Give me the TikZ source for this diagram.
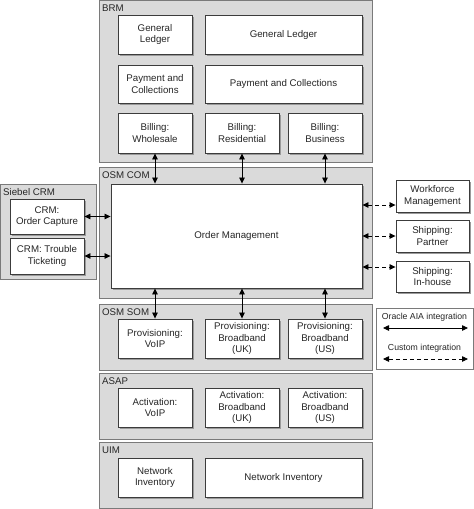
\documentclass[tikz,border=0pt]{standalone}
\usepackage{fontspec}
\setmainfont{Liberation Sans}
\usetikzlibrary{arrows.meta,shadows}
\definecolor{contfill}{HTML}{DADADA}
\definecolor{contdraw}{HTML}{7A7A7A}
\definecolor{boxdraw}{HTML}{3C3C3C}
\definecolor{shadowc}{HTML}{9A9A9A}
\begin{document}
\begin{tikzpicture}[x=1pt,y=-1pt,
  every node/.style={font=\fontsize{9.7}{11.7}\selectfont, text=black!85},
  cont/.style={draw=contdraw, fill=contfill, line width=0.8pt,
     drop shadow={shadow xshift=1pt, shadow yshift=-1pt, fill=shadowc, opacity=1}},
  clabel/.style={anchor=west, inner sep=0pt},
  box/.style={draw=boxdraw, fill=white, line width=0.9pt, align=center, inner sep=1pt,
     drop shadow={shadow xshift=1.6pt, shadow yshift=-1.6pt, fill=shadowc, opacity=1}},
  sm/.style={box, minimum width=74pt, minimum height=39pt},
  wd/.style={box, minimum width=157pt, minimum height=39pt},
  rt/.style={box, minimum width=73pt, minimum height=32pt},
  aia/.style={{Triangle[length=6pt,width=5.5pt]}-{Triangle[length=6pt,width=5.5pt]}, line width=0.8pt, black},
  cust/.style={aia, dash pattern=on 4pt off 3pt},
  lgtext/.style={font=\fontsize{8.7}{10}\selectfont, inner sep=0pt}
]
\useasboundingbox (0,0) rectangle (474,509);

% containers
\draw[cont] (99,0.5) rectangle (372,162);
\node[clabel] (lbrm) at (102,8) {BRM};
\draw[cont] (99,167) rectangle (372,298);
\node[clabel] (lcom) at (102,175) {OSM COM};
\draw[cont] (0.5,184) rectangle (96,279);
\node[clabel] (lcrm) at (3,192) {Siebel CRM};
\draw[cont] (99,304) rectangle (372,370);
\node[clabel] (lsom) at (102,312) {OSM SOM};
\draw[cont] (99,373) rectangle (372,439);
\node[clabel] (lasap) at (102,381) {ASAP};
\draw[cont] (99,442) rectangle (372,508.5);
\node[clabel] (luim) at (102,450) {UIM};

% BRM
\node[sm] (gla) at (155,34.5) {General\\Ledger};
\node[wd] (glb) at (283.5,34.5) {General Ledger};
\node[sm, minimum height=38pt] (pca) at (155,84) {Payment and\\Collections};
\node[wd, minimum height=38pt] (pcb) at (283.5,84) {Payment and Collections};
\node[sm, minimum height=40pt] (bw) at (155,133) {Billing:\\Wholesale};
\node[sm, minimum height=40pt] (br) at (242,133) {Billing:\\Residential};
\node[sm, minimum height=40pt] (bb) at (325,133) {Billing:\\Business};

% OSM COM
\node[box, minimum width=251pt, minimum height=104pt] (om) at (236.5,236) {Order Management};

% Siebel CRM
\node[sm, minimum height=35pt] (crm1) at (47,216.5) {CRM:\\Order Capture};
\node[sm, minimum height=36pt] (crm2) at (47,256) {CRM: Trouble\\Ticketing};

% right boxes
\node[rt] (wf) at (432.5,196) {Workforce\\Management};
\node[rt] (sp) at (432.5,236) {Shipping:\\Partner};
\node[rt, minimum height=31pt] (sh) at (432.5,276.5) {Shipping:\\In-house};

% OSM SOM
\node[sm] (pv) at (155,338.5) {Provisioning:\\VoIP};
\node[sm] (pu) at (242,338.5) {Provisioning:\\Broadband\\(UK)};
\node[sm] (ps) at (325,338.5) {Provisioning:\\Broadband\\(US)};

% ASAP
\node[sm] (av) at (155,407.5) {Activation:\\VoIP};
\node[sm] (au) at (242,407.5) {Activation:\\Broadband\\(UK)};
\node[sm] (as) at (325,407.5) {Activation:\\Broadband\\(US)};

% UIM
\node[sm] (nia) at (155,477.5) {Network\\Inventory};
\node[wd] (nib) at (283.5,477.5) {Network Inventory};

% legend
\node[draw=contdraw, fill=white, line width=0.8pt, minimum width=97pt, minimum height=61pt,
      drop shadow={shadow xshift=1pt, shadow yshift=-1pt, fill=shadowc, opacity=1}] (lg) at (424.5,338.5) {};
\node[lgtext] (lt1) at (424.5,317) {Oracle AIA integration};
\node[lgtext] (lt2) at (424.5,348) {Custom integration};
\coordinate (la1) at (383,328);
\coordinate (lb1) at (468,328);
\coordinate (la2) at (383,359);
\coordinate (lb2) at (468,359);
\draw[aia] (la1) -- (lb1);
\draw[cust] (la2) -- (lb2);

% vertical connectors
\draw[aia] (bw.south) -- (bw.south |- om.north);
\draw[aia] (br.south) -- (br.south |- om.north);
\draw[aia] (bb.south) -- (bb.south |- om.north);
\draw[aia] (pv.north |- om.south) -- (pv.north);
\draw[aia] (pu.north |- om.south) -- (pu.north);
\draw[aia] (ps.north |- om.south) -- (ps.north);

% left connectors
\draw[aia] (crm1.east) -- (om.west |- crm1.east);
\draw[aia] (crm2.east) -- (om.west |- crm2.east);

% right connectors
\coordinate (w1) at ([yshift=-9pt]wf.west);
\coordinate (w3) at ([yshift=9.5pt]sh.west);
\draw[cust] (om.east |- w1) -- (w1);
\draw[cust] (om.east |- sp.west) -- (sp.west);
\draw[cust] (om.east |- w3) -- (w3);
\end{tikzpicture}
\end{document}
